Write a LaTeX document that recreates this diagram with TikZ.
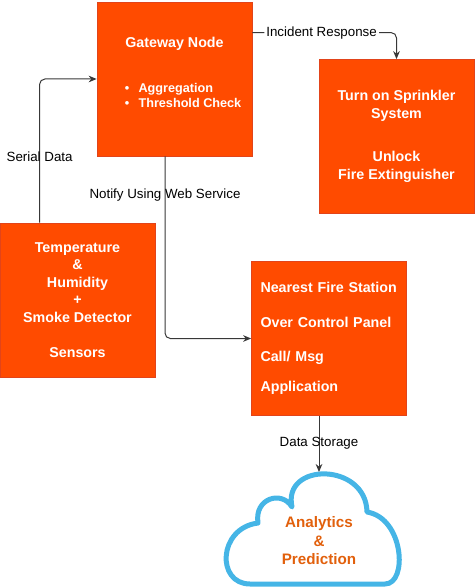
\documentclass[tikz,border=0pt]{standalone}
\usepackage{fontspec}
\setmainfont{Liberation Sans}
\usepackage{tikz}
\usepackage{xcolor}
\usetikzlibrary{arrows.meta,positioning,calc}
\definecolor{alarm}{HTML}{FF4B00}
\definecolor{alarmedge}{HTML}{E2441A}
\definecolor{wire}{HTML}{383838}
\definecolor{sky}{HTML}{45B5E6}
\definecolor{ember}{HTML}{E2600C}

\begin{document}
\begin{tikzpicture}[x=0.75pt,y=-0.75pt,
    box/.style={draw=alarmedge,fill=alarm,line width=0.6pt,inner sep=0pt,
                minimum width=116.25pt,minimum height=115.5pt},
    boxtext/.style={text=white,align=center,inner sep=0pt,
                font=\bfseries\fontsize{10.7}{13.1}\selectfont},
    conn/.style={draw=wire,line width=0.75pt,rounded corners=4pt,
                -{Stealth[length=6pt,width=5pt]}},
    tag/.style={font=\fontsize{10}{12}\selectfont,text=black,inner sep=1.5pt}]
  \useasboundingbox (0,0) rectangle (474,588);

  \node[box] (gw) at (174.5,79) {};
  \node[boxtext] (gwtitle) at (174.5,44) {Gateway Node};
  \node[boxtext,align=left,anchor=west,font=\bfseries\fontsize{9.5}{11.25}\selectfont]
    (gwlist) at (124.5,95.5)
    {\textbullet\hspace{7pt}Aggregation\\\textbullet\hspace{7pt}Threshold Check};

  \node[box,boxtext] (act) at (396.5,136.5)
    {Turn on Sprinkler\\System\\[19.5pt]Unlock\\Fire Extinguisher};
  \node[box,boxtext] (sens) at (77.5,300)
    {Temperature\\\&\\Humidity\\+\\Smoke Detector\\[13pt]Sensors};
  \node[box,boxtext,align=left,text width=102.75pt] (ntf) at (329,338.5)
    {Nearest Fire Station\\[13pt]Over Control Panel\\[13pt]Call/ Msg\\[9.4pt]Application};

  \draw[draw=sky,line width=3.75pt,fill=white,line join=round]
    (250,584) -- (385,584)
    .. controls (408,584) and (404,518) .. (367,512)
    .. controls (366,462) and (282,462) .. (292,507)
    .. controls (282,490) and (254,498) .. (258,523)
    .. controls (218,528) and (216,584) .. (250,584) -- cycle;
  \coordinate (cloudtop) at (319,472);
  \node[text=ember,align=center,inner sep=0pt,
        font=\bfseries\fontsize{11.4}{13.9}\selectfont] (cld) at (319,541)
    {Analytics\\\&\\Prediction};

  \draw[conn] ($(sens.north west)+(40,0)$) |- (gw.west)
    node[tag,pos=0.23] (lblserial) {Serial Data};
  \draw[conn] ($(gw.north east)+(0,31)$) -| (act.north)
    node[tag,pos=0.24,fill=white] (lblinc) {Incident Response};
  \draw[conn] ($(gw.south)+(-9.5,0)$) |- (ntf.west)
    node[tag,pos=0.107] (lblnotify) {Notify Using Web Service};
  \draw[conn] ($(ntf.south)+(-10,0)$) -- (cloudtop)
    node[tag,pos=0.49] (lblstore) {Data Storage};
\end{tikzpicture}
\end{document}
